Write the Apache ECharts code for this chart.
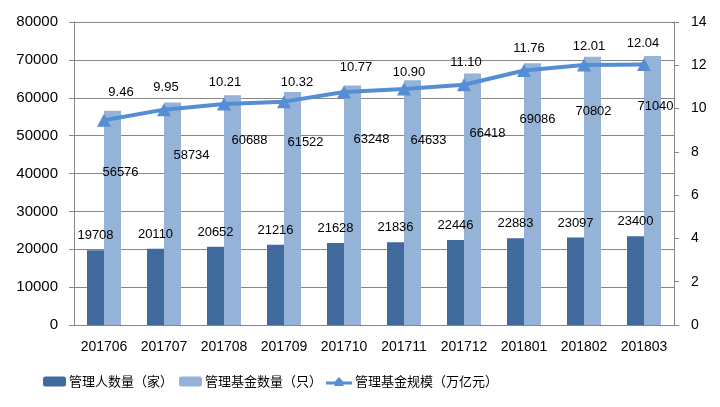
<!DOCTYPE html>
<html><head><meta charset="utf-8">
<script src="https://cdn.jsdelivr.net/npm/echarts@6/dist/echarts.min.js"></script>
<style>html,body{margin:0;padding:0;background:#fff}#c{width:720px;height:407px}</style>
</head><body><div id="c"></div>
<script>
const categories = ['201706','201707','201708','201709','201710','201711','201712','201801','201802','201803'];
const managerCount = [19708,20110,20652,21216,21628,21836,22446,22883,23097,23400];
const fundCount = [56576,58734,60688,61522,63248,64633,66418,69086,70802,71040];
const fundScale = [9.46,9.95,10.21,10.32,10.77,10.90,11.10,11.76,12.01,12.04];
const leftTicks = {min:0, max:80000, interval:10000};
const rightTicks = {min:0, max:14, interval:2};
const names = ['管理人数量（家）','管理基金数量（只）','管理基金规模（万亿元）'];

// label placement styles (as in reference)
const fundLabelOffset = [[8,55],[19,46],[17,39],[13,44],[19,47],[16,54],[15,53],[5,50],[1,48],[3,44]];
const scaleLabelOffset = [[17,-15],[2,-9],[1,-9],[13,-6],[12,-11],[5,-4],[2,-9],[5,-9],[5,-6],[-1,-8]];

const chart = echarts.init(document.getElementById('c'), null, {renderer:'canvas'});
const lblFont = {fontFamily:'Liberation Sans, Arial, sans-serif', fontSize:13, color:'#000'};
const legendBase = {top:375, padding:0, itemHeight:10, itemWidth:23, itemGap:0, textStyle:{fontFamily:'Noto Sans CJK SC', fontSize:13, color:'#000', padding:[0,0,0,-2]}};
chart.setOption({
  animation:false,
  grid:{left:74, right:46, top:22, bottom:82},
  legend:[
    Object.assign({}, legendBase, {left:43, data:[names[0]]}),
    Object.assign({}, legendBase, {left:179, data:[names[1]]}),
    Object.assign({}, legendBase, {left:326, itemWidth:26, itemHeight:11, data:[{name:names[2], icon:'path://M0,4.5 L9,4.5 L13,0 L17,4.5 L26,4.5 L26,7.5 L17,7.5 L18,9 L8,9 L9,7.5 L0,7.5 Z'}]})
  ],
  xAxis:{type:'category', data:categories,
    axisLine:{lineStyle:{color:'#868686'}}, axisTick:{show:false},
    axisLabel:{interval:0, fontFamily:'Liberation Sans Narrow, Arial Narrow, sans-serif', fontSize:14, color:'#000', margin:15}},
  yAxis:[
    {type:'value', min:leftTicks.min, max:leftTicks.max, interval:leftTicks.interval,
     axisLine:{show:true, lineStyle:{color:'#868686'}}, axisTick:{show:true, length:5, lineStyle:{color:'#868686'}},
     splitLine:{lineStyle:{color:'#868686'}},
     axisLabel:{formatter:v=>String(v), fontFamily:'Liberation Sans, Arial, sans-serif', fontSize:15, color:'#000', margin:16}},
    {type:'value', min:rightTicks.min, max:rightTicks.max, interval:rightTicks.interval, position:'right',
     axisLine:{show:true, lineStyle:{color:'#868686'}}, axisTick:{show:true, length:5, lineStyle:{color:'#868686'}},
     splitLine:{show:false},
     axisLabel:{formatter:v=>String(v), fontFamily:'Liberation Sans, Arial, sans-serif', fontSize:14, color:'#000', margin:17}}
  ],
  series:[
    {name:names[0], type:'bar', data:managerCount, barWidth:17, barGap:'0%', itemStyle:{color:'#406A9C'},
     label:{show:true, position:'top', distance:8, ...lblFont}},
    {name:names[1], type:'bar', data:fundCount.map((v,i)=>({value:v, label:{offset:fundLabelOffset[i]}})), barWidth:17, itemStyle:{color:'#95B3D7'},
     label:{show:true, position:'insideTop', distance:0, ...lblFont}},
    {name:names[2], type:'line', yAxisIndex:1, z:5,
     data:fundScale.map((v,i)=>({value:v, label:{offset:scaleLabelOffset[i]}})),
     symbol:'triangle', symbolSize:[14,13], itemStyle:{color:'#558ED5'}, lineStyle:{color:'#558ED5', width:4},
     label:{show:true, position:'top', distance:0, formatter:p=>p.value.toFixed(2), ...lblFont}}
  ]
});
</script></body></html>
